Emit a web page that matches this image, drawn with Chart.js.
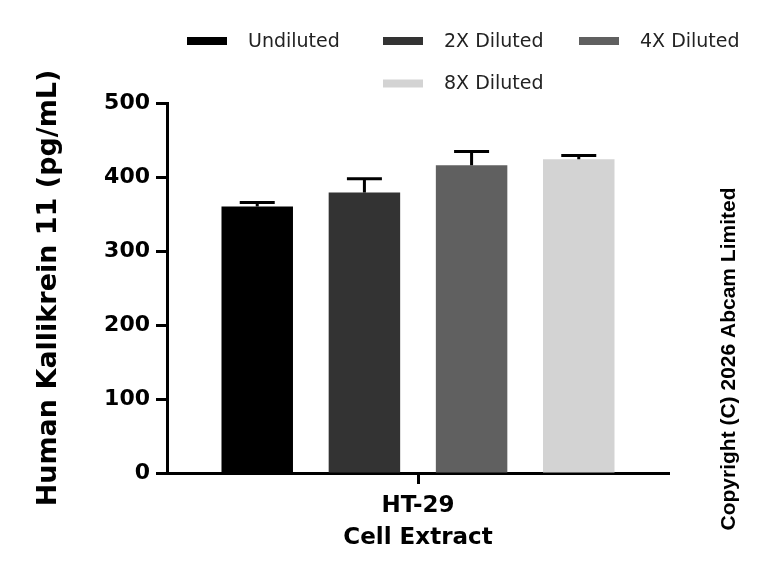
<!DOCTYPE html>
<html>
<head>
<meta charset="utf-8">
<script src="https://cdn.jsdelivr.net/npm/chart.js@4.4.1/dist/chart.umd.min.js"></script>
<style>
  html, body { margin: 0; padding: 0; background: #ffffff; }
  #wrap { width: 768px; height: 581px; }
</style>
</head>
<body>
<div id="wrap"><canvas id="c" width="768" height="581"></canvas></div>
<script>
// ---- data ----
const categories = [['HT-29', 'Cell Extract']];
const seriesLabels = ['Undiluted', '2X Diluted', '4X Diluted', '8X Diluted'];
const seriesMeans = [360, 379, 416, 424];
const seriesErrors = [5.5, 18.5, 18.5, 5];
const seriesColors = ['#000000', '#333333', '#606060', '#d3d3d3'];
const yTicks = [0, 100, 200, 300, 400, 500];
const yTitle = 'Human Kallikrein 11 (pg/mL)';
const copyrightText = 'Copyright (C) 2026 Abcam Limited';

const datasets = seriesLabels.map((lab, i) => ({
  label: lab,
  data: [seriesMeans[i]],
  errorPlus: seriesErrors[i],
  backgroundColor: seriesColors[i],
  borderWidth: 0,
  barPercentage: 0.667,
  categoryPercentage: 0.854
}));

// error bars (upper only)
const errorBarPlugin = {
  id: 'errorBars',
  afterDatasetsDraw(chart) {
    const ctx = chart.ctx;
    const y = chart.scales.y;
    ctx.save();
    ctx.strokeStyle = '#000';
    ctx.lineWidth = 3;
    chart.data.datasets.forEach((ds, i) => {
      const meta = chart.getDatasetMeta(i);
      meta.data.forEach((bar, j) => {
        const v = ds.data[j];
        const top = y.getPixelForValue(v + ds.errorPlus);
        const base = y.getPixelForValue(v);
        const half = 17.5;
        ctx.beginPath();
        ctx.moveTo(bar.x, base);
        ctx.lineTo(bar.x, top);
        ctx.moveTo(bar.x - half, top);
        ctx.lineTo(bar.x + half, top);
        ctx.stroke();
      });
    });
    ctx.restore();
  }
};

// custom legend in a fixed grid (3 per row, rows centred)
const legendPlugin = {
  id: 'gridLegend',
  afterDraw(chart) {
    const ctx = chart.ctx;
    const cellW = 196, perRow = 3, centerX = 461, rowY = [41, 83.5];
    ctx.save();
    ctx.font = '19px "DejaVu Sans"';
    ctx.textBaseline = 'middle';
    ctx.textAlign = 'left';
    chart.data.datasets.forEach((ds, i) => {
      const row = Math.floor(i / perRow);
      const n = Math.min(perRow, chart.data.datasets.length - row * perRow);
      const col = i % perRow;
      const startX = centerX - (n * cellW) / 2 + col * cellW + 20;
      const cy = rowY[row];
      ctx.fillStyle = ds.backgroundColor;
      ctx.fillRect(startX, cy - 4, 40, 8);
      ctx.fillStyle = '#222';
      ctx.fillText(ds.label, startX + 61, cy + 1);
    });
    ctx.restore();
  }
};

const copyrightPlugin = {
  id: 'copyright',
  afterDraw(chart) {
    const ctx = chart.ctx;
    ctx.save();
    ctx.translate(729, 359);
    ctx.rotate(-Math.PI / 2);
    ctx.font = 'bold 21px "Liberation Sans"';
    ctx.fillStyle = '#000';
    ctx.textAlign = 'center';
    ctx.textBaseline = 'middle';
    ctx.fillText(copyrightText, 0, 0);
    ctx.restore();
  }
};

new Chart(document.getElementById('c'), {
  type: 'bar',
  data: { labels: categories, datasets },
  options: {
    responsive: false,
    animation: false,
    devicePixelRatio: 1,
    layout: { padding: { left: 0, right: 99, top: 103, bottom: 0 } },
    plugins: {
      legend: { display: false },
      tooltip: { enabled: false }
    },
    scales: {
      x: {
        grid: {
          display: true,
          drawOnChartArea: false,
          drawTicks: true,
          offset: false,
          tickLength: 11,
          tickWidth: 3,
          tickColor: '#000'
        },
        border: { display: true, color: '#000', width: 3 },
        ticks: {
          color: '#000',
          padding: 6,
          font: { family: '"DejaVu Sans"', weight: 'bold', size: 23, lineHeight: 1.39 }
        },
        afterFit(scale) { scale.height = 108; }
      },
      y: {
        min: 0,
        max: 500,
        afterBuildTicks(scale) { scale.ticks = yTicks.map(v => ({ value: v })); },
        grid: {
          display: true,
          drawOnChartArea: false,
          drawTicks: true,
          tickLength: 11,
          tickWidth: 3,
          tickColor: '#000'
        },
        border: { display: true, color: '#000', width: 3 },
        ticks: {
          color: '#000',
          padding: 6,
          font: { family: '"DejaVu Sans"', weight: 'bold', size: 22 }
        },
        title: {
          display: true,
          text: yTitle,
          color: '#000',
          padding: { top: 33, bottom: 0 },
          font: { family: '"DejaVu Sans"', weight: 'bold', size: 27, lineHeight: 1.2 }
        },
        afterFit(scale) { scale.width = 167; }
      }
    }
  },
  plugins: [errorBarPlugin, legendPlugin, copyrightPlugin]
});
</script>
</body>
</html>
